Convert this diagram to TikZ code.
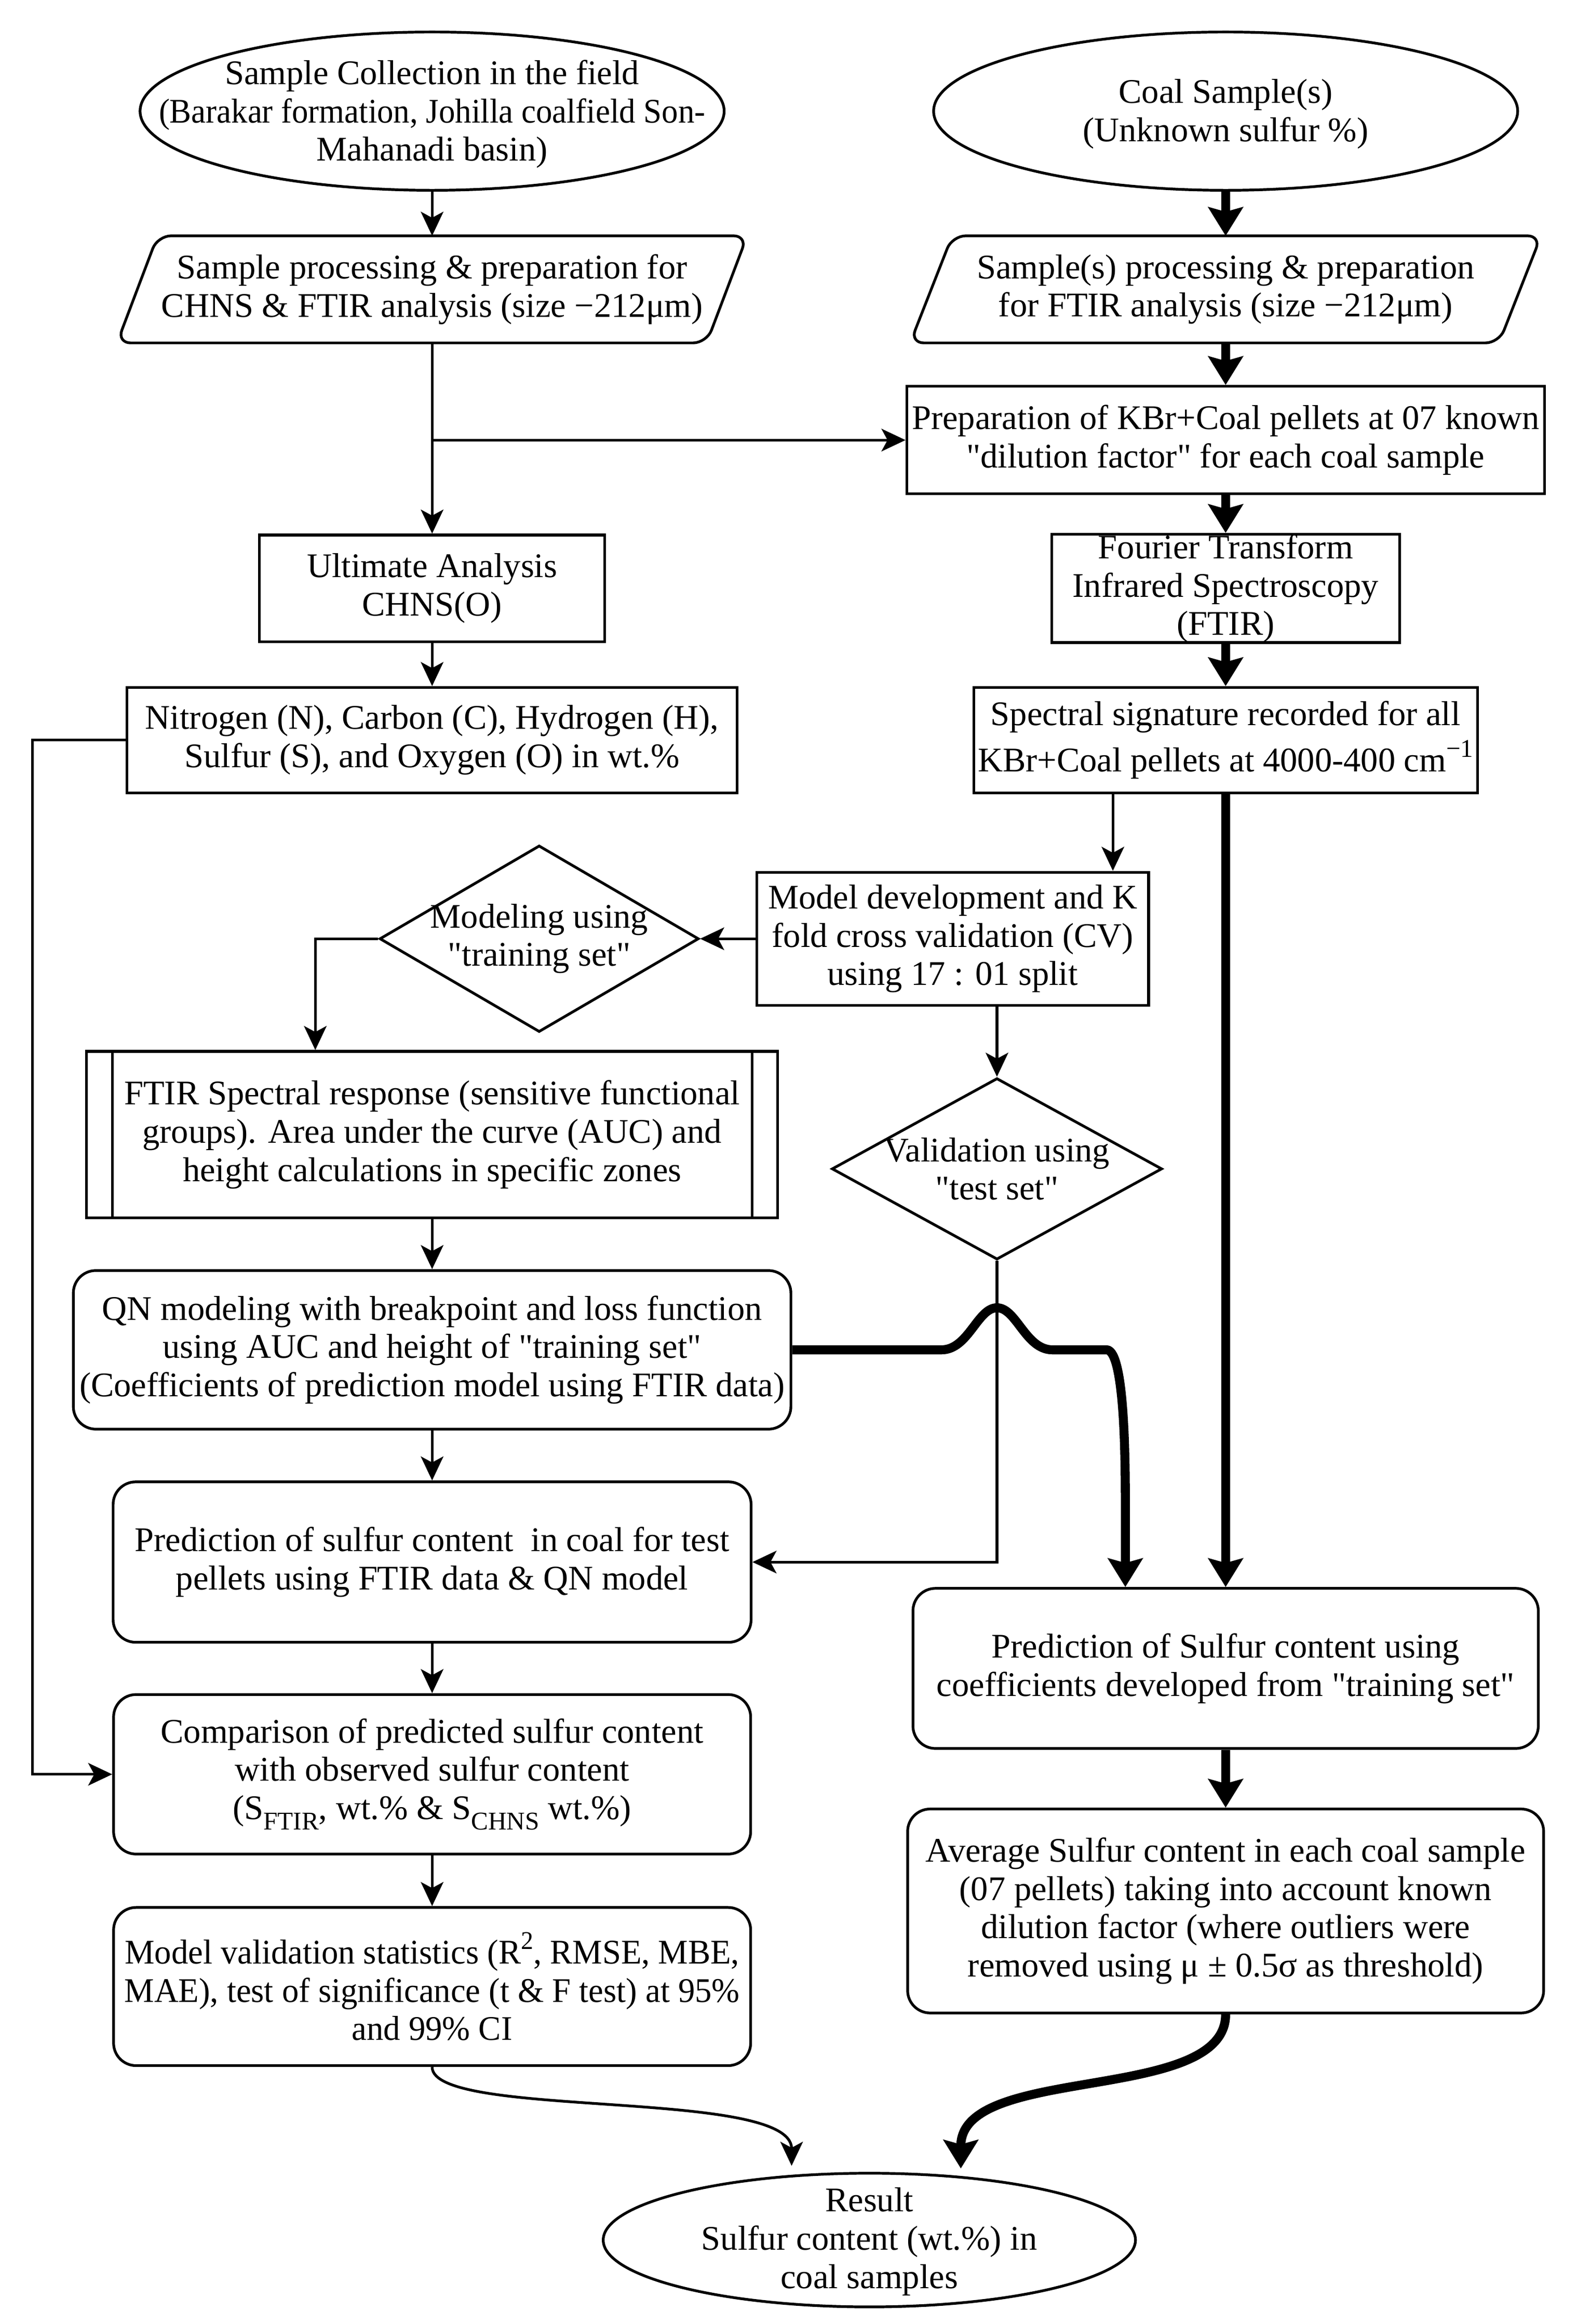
\documentclass[tikz,border=0pt]{standalone}
\usepackage{fontspec}
\newfontfamily\mainf{Liberation Serif}[Ligatures=TeXOff]
\newfontfamily\mainfn{Liberation Serif}[Ligatures=TeXOff,FakeStretch=0.945]
\newfontfamily\mainfm{Liberation Serif}[Ligatures=TeXOff,FakeStretch=0.972]
\usetikzlibrary{arrows.meta,shapes.geometric,calc}
\newcommand\fsz{\mainf\fontsize{23}{25.5}\selectfont}
\newcommand\mysup[1]{\raisebox{0.42em}{\fontsize{17}{17}\selectfont #1}}
\newcommand\mysub[1]{\raisebox{-0.3em}{\fontsize{17}{17}\selectfont #1}}
\begin{document}
\begin{tikzpicture}[x=1pt,y=1pt,
  shp/.style={line width=1.8pt, line join=round},
  txt/.style={align=center, font=\fsz, inner sep=0pt},
  box/.style={txt, draw, line width=1.8pt, rectangle},
  rbox/.style={txt, draw, line width=1.8pt, rectangle, rounded corners=15pt},
  ell/.style={draw, line width=1.8pt, ellipse, inner sep=0pt},
  dia/.style={draw, line width=1.8pt, diamond, inner sep=0pt},
  arr/.style={line width=1.8pt, -{Stealth[length=16pt,width=15pt,inset=4pt]}},
  tarr/.style={line width=6pt, line join=round, -{Stealth[length=19pt,width=23pt,inset=3pt]}}
]
\fill[white] (0,0) rectangle (1050,-1547.3);
\useasboundingbox (0,0) rectangle (1050,-1547.3);

% ---- top ellipses
\node[ell, minimum width=389, minimum height=105.4] (e1) at (287.8,-74) {};
\node[txt] (e1t) at ([yshift=-2]e1.center) {Sample Collection in the field\\{\mainfn(Barakar formation, Johilla coalfield Son-}\\Mahanadi basin)};
\node[ell, minimum width=389, minimum height=105.4] (e2) at (816.3,-74) {};
\node[txt] (e2t) at ([yshift=-2]e2.center) {Coal Sample(s)\\(Unknown sulfur \%)};

% ---- parallelograms
\node[txt, minimum width=392.3, minimum height=70.9] (p1) at (287.8,-192.65) {Sample processing \& preparation for\\CHNS \& FTIR analysis (size −212μm)};
\draw[shp, rounded corners=9pt] ([xshift=-13.5]p1.south west) -- ([xshift=13.5]p1.north west) -- ([xshift=13.5]p1.north east) -- ([xshift=-13.5]p1.south east) -- cycle;
\node[txt, minimum width=391.8, minimum height=70.9] (p2) at (816.3,-192.65) {Sample(s) processing \& preparation\\for FTIR analysis (size −212μm)};
\draw[shp, rounded corners=9pt] ([xshift=-14]p2.south west) -- ([xshift=14]p2.north west) -- ([xshift=14]p2.north east) -- ([xshift=-14]p2.south east) -- cycle;

% ---- rectangles
\node[box, minimum width=424.6, minimum height=71.6] (kbr) at (816.3,-293) {Preparation of KBr+Coal pellets at 07 known\\"dilution factor" for each coal sample};
\node[box, minimum width=230.1, minimum height=71.1] (ua) at (287.8,-391.75) {Ultimate Analysis\\CHNS(O)};
\node[box, minimum width=231.8, minimum height=71.1] (ftir) at (816.3,-391.75) {Fourier Transform\\Infrared Spectroscopy\\(FTIR)};
\node[box, minimum width=406.5, minimum height=70.1] (nit) at (287.8,-492.75) {Nitrogen (N), Carbon (C), Hydrogen (H),\\Sulfur (S), and Oxygen (O) in wt.\%};
\node[box, minimum width=335.6, minimum height=70.1] (spec) at (816.3,-492.75) {Spectral signature recorded for all\\[4pt]KBr+Coal pellets at 4000-400 cm\mysup{−1}};
\node[box, minimum width=260.9, minimum height=88.6] (mod) at (634.55,-625) {Model development and K\\fold cross validation (CV)\\using 17 : 01 split};

% ---- diamonds
\node[dia, minimum width=212.6, minimum height=124.2] (d1) at (359.1,-625) {};
\node[txt] (d1t) at (d1.center) {Modeling using\\"training set"};
\node[dia, minimum width=220, minimum height=120.8] (d2) at (664,-778.2) {};
\node[txt] (d2t) at (d2.center) {Validation using\\"test set"};

% ---- predefined process box
\node[box, minimum width=460.4, minimum height=110.7] (spec2) at (287.8,-755.35) {FTIR Spectral response (sensitive functional\\groups). Area under the curve (AUC) and\\height calculations in specific zones};
\draw[shp] ([xshift=18.1]spec2.north west) -- ([xshift=18.1]spec2.south west);
\draw[shp] ([xshift=-18]spec2.north east) -- ([xshift=-18]spec2.south east);

% ---- rounded boxes
\node[rbox, minimum width=477.9, minimum height=105.6] (qn) at (287.8,-898.7) {QN modeling with breakpoint and loss function\\using AUC and height of "training set"\\(Coefficients of prediction model using FTIR data)};
\node[rbox, minimum width=424.9, minimum height=106.8] (predt) at (287.8,-1040) {Prediction of sulfur content\ \ in coal for test\\pellets using FTIR data \& QN model};
\node[rbox, minimum width=424.3, minimum height=106.2] (comp) at (287.8,-1181.3) {Comparison of predicted sulfur content\\with observed sulfur content\\(S\mysub{FTIR}, wt.\% \& S\mysub{CHNS} wt.\%)};
\node[rbox, minimum width=424.3, minimum height=105.3, font=\fsz\mainfm] (mval) at (287.8,-1322.6) {Model validation statistics (R\mysup{2}, RMSE, MBE,\\MAE), test of significance (t \& F test) at 95\%\\and 99\% CI};
\node[rbox, minimum width=416.5, minimum height=106.6] (predS) at (816.3,-1110.8) {Prediction of Sulfur content using\\coefficients developed from "training set"};
\node[rbox, minimum width=423.6, minimum height=135.8] (avg) at (816.3,-1272.3) {Average Sulfur content in each coal sample\\(07 pellets) taking into account known\\dilution factor (where outliers were\\removed using μ ± 0.5σ as threshold)};

% ---- result ellipse
\node[ell, minimum width=354.5, minimum height=89] (res) at (579,-1491.4) {};
\node[txt] (rest) at ([yshift=-1]res.center) {Result\\Sulfur content (wt.\%) in\\coal samples};

% ---- thin connectors
\draw[arr] (e1.south) -- (p1.north);
\draw[arr] (p1.south) -- (ua.north);
\coordinate (br) at (p1.south |- kbr.west);
\draw[arr] (br) -- (kbr.west);
\draw[arr] (ua.south) -- (nit.north);
\draw[arr] ([xshift=-75.1]spec.south) -- ([xshift=-75.1]spec.south |- mod.north);
\draw[arr] (mod.west) -- (d1.east);
\draw[arr] (d1.west) -| ([xshift=-77.8]spec2.north);
\draw[arr] (mod.south -| d2.north) -- (d2.north);
\draw[arr] (d2.south) |- (predt.east);
\draw[arr] (spec2.south) -- (qn.north);
\draw[arr] (qn.south) -- (predt.north);
\draw[arr] (predt.south) -- (comp.north);
\draw[arr] (nit.west) -- ++(-62,0) |- (comp.west);
\draw[arr] (comp.south) -- (mval.north);
\draw[arr, shorten >=6pt] (mval.south) .. controls +(0,-35) and +(0,58) .. (res.140.7);

% ---- thick connectors
\draw[tarr] (e2.south) -- (p2.north);
\draw[tarr] (p2.south) -- (kbr.north);
\draw[tarr] (kbr.south) -- (ftir.north);
\draw[tarr] (ftir.south) -- (spec.north);
\draw[tarr] (spec.south) -- (predS.north);
\draw[tarr] (predS.south) -- (avg.north);
\coordinate (hop) at (d2.south |- qn.east);
\draw[tarr] (qn.east) -- ([xshift=-37]hop) .. controls +(18,0) and +(-13,0) .. ([yshift=28]hop) .. controls +(13,0) and +(-18,0) .. ([xshift=37]hop) -- ([xshift=73]hop) .. controls +(10,0) and +(0,50) .. ([xshift=-66.8,yshift=58]predS.north) -- ([xshift=-66.8]predS.north);
\draw[tarr, shorten >=5pt] (avg.south) .. controls +(0,-60) and +(0,75) .. (res.35);
\end{tikzpicture}
\end{document}
